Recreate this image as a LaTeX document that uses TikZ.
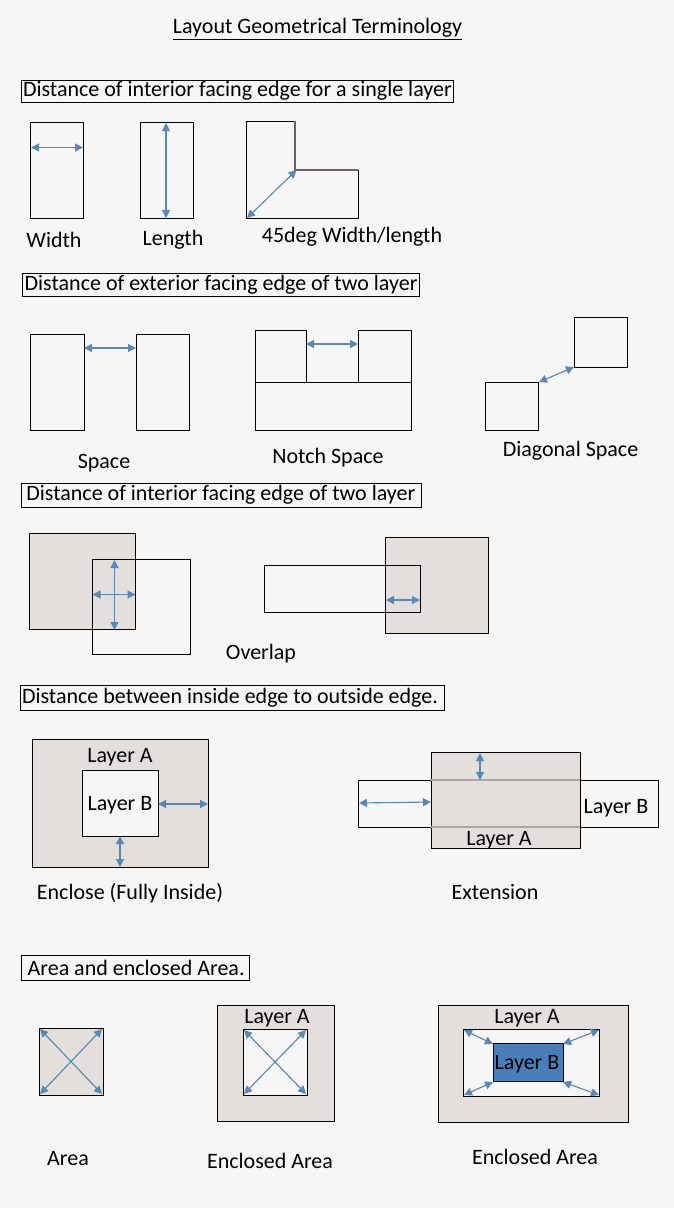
\documentclass[tikz,border=0pt]{standalone}
\usepackage{fontspec}
\setmainfont{Carlito}
\usetikzlibrary{arrows.meta}
\definecolor{pagebg}{HTML}{F7F6F6}
\definecolor{layergrey}{HTML}{E2DFDD}
\definecolor{arrowblue}{HTML}{5B87B2}
\definecolor{layerblue}{HTML}{4A7EBB}
\definecolor{edgebrown}{HTML}{6B6360}
\definecolor{ghost}{HTML}{A8A5A3}
\tikzset{
  x=0.75pt,y=-0.75pt,
  shapebox/.style={draw=black,line width=0.75pt,inner sep=0pt,outer sep=0pt},
  greybox/.style={shapebox,fill=layergrey},
  whitebox/.style={shapebox,fill=pagebg},
  bluebox/.style={shapebox,fill=layerblue},
  headbox/.style={draw=black,line width=0.75pt,inner xsep=1.5pt,inner ysep=0pt,outer sep=0pt,align=flush left,font=\fontsize{16.5pt}{18pt}\selectfont},
  lbl/.style={inner sep=0pt,yshift=-0.9pt,font=\fontsize{16.5pt}{18pt}\selectfont},
  measure/.style={draw=arrowblue,line width=0.85pt,{Triangle[width=6pt,length=6pt]}-{Triangle[width=6pt,length=6pt]},shorten >=0pt,shorten <=0pt},
}
% \rc{style}{name}{x1}{y1}{x2}{y2}{text}
\newcommand\rc[7]{%
  \pgfmathsetmacro\rcw{(#5-#3)*0.75}\pgfmathsetmacro\rch{(#6-#4)*0.75}%
  \pgfmathsetmacro\rcx{(#3+#5)/2}\pgfmathsetmacro\rcy{(#4+#6)/2}%
  \node[#1,minimum width=\rcw pt,minimum height=\rch pt] (#2) at (\rcx,\rcy) {#7};}
% \hd{name}{x1}{y1}{x2}{y2}{indent}{text}
\newcommand\hd[7]{%
  \pgfmathsetmacro\rcw{(#4-#2)*0.75-3}\pgfmathsetmacro\rch{(#5-#3)*0.75}%
  \pgfmathsetmacro\rcx{(#2+#4)/2}\pgfmathsetmacro\rcy{(#3+#5)/2}%
  \node[headbox,text width=\rcw pt,minimum height=\rch pt] (#1) at (\rcx,\rcy) {\hspace*{#6pt}\raisebox{-1.8pt}{#7}};}
% \ar{name}{x1}{y1}{x2}{y2}
\newcommand\ar[5]{%
  \coordinate (#1a) at (#2,#3);\coordinate (#1b) at (#4,#5);
  \draw[measure] (#1a) -- (#1b);}
\begin{document}
\begin{tikzpicture}
\useasboundingbox (0,0) rectangle (674,1208);
\fill[pagebg] (0,0) rectangle (674,1208);
\node[lbl] (title) at (317.5,28) {\underline{Layout Geometrical Terminology}};
% section 1
\hd{h1}{21}{80}{453}{102}{0}{Distance of interior facing edge for a single layer}
\rc{shapebox}{width}{30}{122}{83}{218}{}
\rc{shapebox}{length}{140}{122}{193}{218}{}
\coordinate (la) at (246.5,121);\coordinate (lb) at (295,121);\coordinate (lc) at (295,170);
\coordinate (ld) at (358,170);\coordinate (le) at (358,218);\coordinate (lf) at (246.5,218);
\draw[black,line width=0.75pt] (lb) -- (la) -- (lf) -- (le) -- (ld);
\draw[edgebrown,line width=1.1pt] (lb) -- (lc) -- (ld);
\ar{w}{31}{147.5}{83}{147.5}
\ar{l}{166}{123}{166}{218}
\ar{d}{247}{218}{296.5}{170}
\node[lbl] (twidth) at (54,239) {Width};
\node[lbl] (tlength) at (173,239) {Length};
\node[lbl] (tdeg) at (352,236) {45deg Width/length};
% section 2
\hd{h2}{22}{273}{419}{296}{0.5}{Distance of exterior facing edge of two layer}
\rc{shapebox}{sa}{30}{334}{84}{430}{}
\rc{shapebox}{sb}{136}{334}{189}{430}{}
\ar{s}{84}{348}{136}{348}
\rc{shapebox}{na}{255}{330}{306}{382}{}
\rc{shapebox}{nb}{358}{330}{411}{382}{}
\rc{shapebox}{nc}{255}{382}{411}{430}{}
\ar{n}{306}{344}{358}{344}
\rc{shapebox}{da}{485}{382}{538}{430}{}
\rc{shapebox}{db}{574}{317}{627}{367}{}
\ar{g}{539}{382}{574}{367}
\node[lbl] (tspace) at (104,462) {Space};
\node[lbl] (tnotch) at (328,456) {Notch Space};
\node[lbl] (tdiag) at (570.5,450) {Diagonal Space};
% section 3
\hd{h3}{21}{483}{421}{507}{2.5}{Distance of interior facing edge of two layer}
\rc{greybox}{oa}{29.5}{533.5}{135.5}{629}{}
\rc{shapebox}{ob}{92.5}{559.5}{190.5}{654.5}{}
\ar{ov}{114.5}{560}{114.5}{630}
\ar{oh}{92.5}{594.5}{135.5}{594.5}
\rc{greybox}{oc}{385}{537}{488}{633}{}
\rc{shapebox}{od}{264}{565}{420}{612}{}
\ar{oo}{386}{600}{420}{600}
\node[lbl] (tover) at (261,652) {Overlap};
% section 4
\hd{h4}{20}{685}{444}{710}{0}{Distance between inside edge to outside edge.}
\rc{greybox}{ea}{32}{739}{208}{867}{}
\rc{whitebox}{eb}{82}{770}{158}{836}{}
\ar{eh}{158}{804}{208}{804}
\ar{ev}{120}{836}{120}{867}
\node[lbl] (ela) at (120,756) {Layer A};
\node[lbl] (elb) at (120,804) {Layer B};
\node[lbl] (tenc) at (130,892) {Enclose (Fully Inside)};
\rc{shapebox}{xb}{358}{780}{658}{827}{}
\rc{greybox}{xa}{431}{752}{580}{848}{}
\draw[ghost,line width=0.8pt] (xa.west |- xb.north) -- (xa.east |- xb.north);
\draw[ghost,line width=0.8pt] (xa.west |- xb.south) -- (xa.east |- xb.south);
\ar{xh}{359}{803}{431}{802}
\ar{xv}{480}{753}{480}{780}
\node[lbl] (xla) at (499,839) {Layer A};
\node[lbl] (xlb) at (616,807) {Layer B};
\node[lbl] (text) at (495,891) {Extension};
% section 5
\hd{h5}{21}{955}{249}{980}{3.5}{Area and enclosed Area.}
\rc{greybox}{aa}{39}{1028}{103}{1095}{}
\ar{a1}{40}{1029}{102}{1094}
\ar{a2}{102}{1029}{40}{1094}
\node[lbl] (tarea) at (68,1157) {Area};
\rc{greybox}{ba}{217}{1005}{334}{1121}{}
\rc{whitebox}{bb}{243}{1029}{307}{1095}{}
\ar{b1}{244}{1030}{306}{1094}
\ar{b2}{306}{1030}{244}{1094}
\node[lbl] (bla) at (277,1017) {Layer A};
\node[lbl] (tea) at (270,1160) {Enclosed Area};
\rc{greybox}{ca}{438}{1005}{628}{1122}{}
\rc{whitebox}{cb}{463}{1029}{599}{1096}{}
\rc{bluebox}{cc}{493}{1043}{563}{1081}{}
\ar{c1}{464}{1030}{493}{1044}
\ar{c2}{599}{1030}{563}{1044}
\ar{c3}{464}{1095}{493}{1082}
\ar{c4}{599}{1095}{563}{1082}
\node[lbl] (cla) at (527,1017) {Layer A};
\node[lbl] (clb) at (527,1063) {Layer B};
\node[lbl] (teb) at (535,1156) {Enclosed Area};
\end{tikzpicture}
\end{document}
